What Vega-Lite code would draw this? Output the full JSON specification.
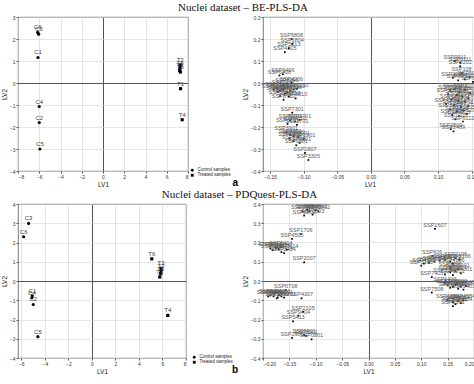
{
"$schema":"https://vega.github.io/schema/vega-lite/v6.json",
"padding":{"left":0,"top":1,"right":0,"bottom":0},
"config":{
 "view":{"stroke":"#555","strokeWidth":0.8},
 "axis":{"labelFontSize":5,"labelFont":"Liberation Sans","titleFont":"Liberation Sans","titleFontSize":6.5,"titleFontWeight":"normal","tickSize":2,"labelPadding":1,"titlePadding":2,"domain":false,"tickColor":"#555","labelColor":"#333","titleColor":"#222",
  "gridColor":{"condition":{"test":"datum.value === 0","value":"#555"},"value":"#d4d4d4"},
  "gridWidth":{"condition":{"test":"datum.value === 0","value":1},"value":0.6}},
 "title":{"font":"Liberation Serif","fontSize":11,"fontWeight":"normal","color":"#111"}
},
"datasets":{
 "s1":[
  {"label":"C6","group":"Control samples","lv1":-6.15,"lv2":2.3},
  {"label":"C3","group":"Control samples","lv1":-6.05,"lv2":2.22},
  {"label":"C1","group":"Control samples","lv1":-6.12,"lv2":1.16},
  {"label":"C4","group":"Control samples","lv1":-6.0,"lv2":-1.07},
  {"label":"C2","group":"Control samples","lv1":-6.0,"lv2":-1.8},
  {"label":"C5","group":"Control samples","lv1":-5.94,"lv2":-3.0},
  {"label":"T2","group":"Treated samples","lv1":7.28,"lv2":0.82},
  {"label":"T6","group":"Treated samples","lv1":7.25,"lv2":0.7},
  {"label":"T3","group":"Treated samples","lv1":7.22,"lv2":0.57},
  {"label":"T5","group":"Treated samples","lv1":7.28,"lv2":0.5},
  {"label":"T1","group":"Treated samples","lv1":7.3,"lv2":-0.26},
  {"label":"T4","group":"Treated samples","lv1":7.45,"lv2":-1.67}
 ],
 "s2":[
  {"label":"C3","group":"Control samples","lv1":-5.38,"lv2":2.99},
  {"label":"C6","group":"Control samples","lv1":-5.8,"lv2":2.3},
  {"label":"C1","group":"Control samples","lv1":-5.07,"lv2":-0.77},
  {"label":"C4","group":"Control samples","lv1":-5.1,"lv2":-0.87},
  {"label":"C2","group":"Control samples","lv1":-4.98,"lv2":-1.22},
  {"label":"C5","group":"Control samples","lv1":-4.59,"lv2":-2.89},
  {"label":"T6","group":"Treated samples","lv1":5.09,"lv2":1.15},
  {"label":"T3","group":"Treated samples","lv1":5.88,"lv2":0.66},
  {"label":"T2","group":"Treated samples","lv1":5.88,"lv2":0.52},
  {"label":"T5","group":"Treated samples","lv1":5.85,"lv2":0.38},
  {"label":"T1","group":"Treated samples","lv1":5.77,"lv2":0.21},
  {"label":"T4","group":"Treated samples","lv1":6.45,"lv2":-1.79}
 ],
 "l1":[
  {"label":"SSP6808","lv1":-0.118,"lv2":0.2},{"label":"SSP6804","lv1":-0.117,"lv2":0.178},{"label":"SSP5313","lv1":-0.122,"lv2":0.158},{"label":"SSP4305","lv1":-0.128,"lv2":0.14},
  {"label":"SSP6408","lv1":-0.136,"lv2":0.034},{"label":"SSP6406","lv1":-0.131,"lv2":0.04},{"label":"SSP5206","lv1":-0.125,"lv2":-0.003},{"label":"SSP4206","lv1":-0.118,"lv2":0.002},{"label":"SSP3107","lv1":-0.13,"lv2":-0.012},
  {"label":"SSP8210","lv1":-0.145,"lv2":-0.03},{"label":"SSP7203","lv1":-0.14,"lv2":-0.024},{"label":"SSP2110","lv1":-0.135,"lv2":-0.036},{"label":"SSP1210","lv1":-0.13,"lv2":-0.03},{"label":"SSP5110","lv1":-0.125,"lv2":-0.042},{"label":"SSP3210","lv1":-0.12,"lv2":-0.035},{"label":"SSP4110","lv1":-0.115,"lv2":-0.03},{"label":"SSP6210","lv1":-0.11,"lv2":-0.026},{"label":"SSP7110","lv1":-0.128,"lv2":-0.048},{"label":"SSP2210","lv1":-0.138,"lv2":-0.04},
  {"label":"SSP8810","lv1":-0.112,"lv2":-0.07},{"label":"SSP8710","lv1":-0.13,"lv2":-0.076},{"label":"SSP6810","lv1":-0.122,"lv2":-0.062},{"label":"SSP5810","lv1":-0.135,"lv2":-0.06},
  {"label":"SSP7301","lv1":-0.117,"lv2":-0.135},
  {"label":"SSP6701","lv1":-0.124,"lv2":-0.186},{"label":"SSP5701","lv1":-0.12,"lv2":-0.17},{"label":"SSP4701","lv1":-0.113,"lv2":-0.176},{"label":"SSP3701","lv1":-0.106,"lv2":-0.168},{"label":"SSP2701","lv1":-0.11,"lv2":-0.19},
  {"label":"SSP3901","lv1":-0.126,"lv2":-0.224},{"label":"SSP4901","lv1":-0.12,"lv2":-0.236},{"label":"SSP5901","lv1":-0.115,"lv2":-0.242},{"label":"SSP6901","lv1":-0.121,"lv2":-0.252},{"label":"SSP2901","lv1":-0.108,"lv2":-0.246},{"label":"SSP1901","lv1":-0.1,"lv2":-0.256},{"label":"SSP7901","lv1":-0.115,"lv2":-0.265},{"label":"SSP8901","lv1":-0.106,"lv2":-0.272},{"label":"SSP9901","lv1":-0.111,"lv2":-0.283},
  {"label":"SSP2807","lv1":-0.098,"lv2":-0.318},{"label":"SSP3305","lv1":-0.093,"lv2":-0.35},
  {"label":"SSP9911","lv1":0.125,"lv2":0.1},{"label":"SSP6111","lv1":0.133,"lv2":0.092},{"label":"SSP3202","lv1":0.133,"lv2":0.076},{"label":"SSP108","lv1":0.135,"lv2":0.045},
  {"label":"SSP2002","lv1":0.122,"lv2":0.024},{"label":"SSP3002","lv1":0.13,"lv2":0.012},{"label":"SSP4002","lv1":0.14,"lv2":0.017},{"label":"SSP5002","lv1":0.147,"lv2":0.027},{"label":"SSP6002","lv1":0.152,"lv2":0.005},
  {"label":"SSP7002","lv1":0.118,"lv2":-0.035},{"label":"SSP1003","lv1":0.125,"lv2":-0.028},{"label":"SSP2003","lv1":0.132,"lv2":-0.04},{"label":"SSP3003","lv1":0.14,"lv2":-0.03},{"label":"SSP4003","lv1":0.148,"lv2":-0.045},{"label":"SSP5003","lv1":0.115,"lv2":-0.05},{"label":"SSP6003","lv1":0.128,"lv2":-0.055},{"label":"SSP7003","lv1":0.136,"lv2":-0.062},{"label":"SSP8003","lv1":0.145,"lv2":-0.07},
  {"label":"SSP1104","lv1":0.12,"lv2":-0.075},{"label":"SSP2104","lv1":0.13,"lv2":-0.08},{"label":"SSP3104","lv1":0.14,"lv2":-0.085},{"label":"SSP4104","lv1":0.112,"lv2":-0.095},{"label":"SSP5104","lv1":0.124,"lv2":-0.1},{"label":"SSP6104","lv1":0.134,"lv2":-0.11},{"label":"SSP7104","lv1":0.145,"lv2":-0.105},{"label":"SSP8104","lv1":0.118,"lv2":-0.12},
  {"label":"SSP1205","lv1":0.128,"lv2":-0.13},{"label":"SSP2205","lv1":0.138,"lv2":-0.125},{"label":"SSP3205","lv1":0.121,"lv2":-0.145},{"label":"SSP4205","lv1":0.131,"lv2":-0.15},{"label":"SSP5205","lv1":0.143,"lv2":-0.14},{"label":"SSP6112","lv1":0.137,"lv2":-0.175},{"label":"SSP7205","lv1":0.126,"lv2":-0.165},
  {"label":"SSP2409","lv1":0.123,"lv2":-0.22},{"label":"SSP2509","lv1":0.119,"lv2":-0.21}
 ],
 "l2":[
  {"label":"SSP8802","lv1":-0.122,"lv2":0.34},{"label":"SSP8803","lv1":-0.106,"lv2":0.345},{"label":"SSP7802","lv1":-0.112,"lv2":0.362},{"label":"SSP7803","lv1":-0.125,"lv2":0.362},{"label":"SSP6802","lv1":-0.1,"lv2":0.368},{"label":"SSP6804","lv1":-0.116,"lv2":0.37},{"label":"SSP5802","lv1":-0.095,"lv2":0.362},
  {"label":"SSP1706","lv1":-0.128,"lv2":0.243},{"label":"SSP4505","lv1":-0.145,"lv2":0.219},
  {"label":"SSP4414","lv1":-0.17,"lv2":0.165},{"label":"SSP3414","lv1":-0.165,"lv2":0.15},{"label":"SSP2414","lv1":-0.16,"lv2":0.145},{"label":"SSP1414","lv1":-0.175,"lv2":0.172},{"label":"SSP5414","lv1":-0.182,"lv2":0.16},{"label":"SSP6414","lv1":-0.166,"lv2":0.176},{"label":"SSP7414","lv1":-0.155,"lv2":0.162},{"label":"SSP8414","lv1":-0.186,"lv2":0.17},
  {"label":"SSP2007","lv1":-0.122,"lv2":0.097},
  {"label":"SSP6708","lv1":-0.157,"lv2":-0.047},
  {"label":"SSP1301","lv1":-0.186,"lv2":-0.075},{"label":"SSP2301","lv1":-0.18,"lv2":-0.08},{"label":"SSP3301","lv1":-0.174,"lv2":-0.09},{"label":"SSP4301","lv1":-0.17,"lv2":-0.074},{"label":"SSP5301","lv1":-0.165,"lv2":-0.08},{"label":"SSP6301","lv1":-0.16,"lv2":-0.086},{"label":"SSP7301","lv1":-0.19,"lv2":-0.08},{"label":"SSP8301","lv1":-0.172,"lv2":-0.085},
  {"label":"SSP4307","lv1":-0.127,"lv2":-0.09},
  {"label":"SSP2105","lv1":-0.124,"lv2":-0.16},{"label":"SSP9404","lv1":-0.133,"lv2":-0.18},{"label":"SSP5413","lv1":-0.143,"lv2":-0.21},
  {"label":"SSP6901","lv1":-0.122,"lv2":-0.28},{"label":"SSP5901","lv1":-0.118,"lv2":-0.285},{"label":"SSP0801","lv1":-0.108,"lv2":-0.303},{"label":"SSP2901","lv1":-0.145,"lv2":-0.296},
  {"label":"SSP1607","lv1":0.126,"lv2":0.271},{"label":"SSP606","lv1":0.121,"lv2":0.13},
  {"label":"SSP3105","lv1":0.1,"lv2":0.08},{"label":"SSP4105","lv1":0.105,"lv2":0.09},{"label":"SSP5105","lv1":0.115,"lv2":0.095},{"label":"SSP6105","lv1":0.125,"lv2":0.1},{"label":"SSP7105","lv1":0.135,"lv2":0.105},{"label":"SSP8105","lv1":0.145,"lv2":0.11},{"label":"SSP1106","lv1":0.155,"lv2":0.1},{"label":"SSP2106","lv1":0.165,"lv2":0.12},{"label":"SSP3106","lv1":0.172,"lv2":0.11},{"label":"SSP4106","lv1":0.16,"lv2":0.09},
  {"label":"SSP3206","lv1":0.155,"lv2":0.07},
  {"label":"SSP1201","lv1":0.145,"lv2":0.035},{"label":"SSP2201","lv1":0.155,"lv2":0.045},{"label":"SSP3201","lv1":0.165,"lv2":0.05},{"label":"SSP4201","lv1":0.175,"lv2":0.04},{"label":"SSP5201","lv1":0.17,"lv2":0.06},{"label":"SSP6201","lv1":0.16,"lv2":0.03},
  {"label":"SSP7405","lv1":0.12,"lv2":0.02},
  {"label":"SSP1403","lv1":0.145,"lv2":-0.01},{"label":"SSP2403","lv1":0.15,"lv2":-0.02},{"label":"SSP3403","lv1":0.16,"lv2":-0.03},{"label":"SSP4403","lv1":0.17,"lv2":-0.04},{"label":"SSP5403","lv1":0.18,"lv2":-0.045},{"label":"SSP6403","lv1":0.165,"lv2":-0.02},{"label":"SSP7407","lv1":0.155,"lv2":-0.035},{"label":"SSP3803","lv1":0.175,"lv2":-0.03},{"label":"SSP8403","lv1":0.185,"lv2":-0.025},
  {"label":"SSP7508","lv1":0.12,"lv2":-0.06},
  {"label":"SSP1584","lv1":0.15,"lv2":-0.1},{"label":"SSP2584","lv1":0.16,"lv2":-0.11},{"label":"SSP3584","lv1":0.17,"lv2":-0.105},{"label":"SSP4584","lv1":0.18,"lv2":-0.1},{"label":"SSP5584","lv1":0.165,"lv2":-0.12},{"label":"SSP3101","lv1":0.16,"lv2":-0.13},{"label":"SSP6584","lv1":0.175,"lv2":-0.115}
 ]
},
"resolve":{"scale":{"x":"independent","y":"independent","shape":"independent"},"legend":{"shape":"independent"}},
"spacing":0,
"vconcat":[
 {"title":{"text":"Nuclei dataset – BE-PLS-DA","anchor":"middle","offset":2},
  "spacing":2,
  "resolve":{"scale":{"x":"independent","y":"independent","shape":"independent"},"legend":{"shape":"independent"}},
  "hconcat":[
   {"width":170,"height":154,"data":{"name":"s1"},
    "title":{"text":"a","orient":"bottom","anchor":"end","frame":"group","dx":50,"offset":-10,"fontSize":10,"fontWeight":"bold","font":"Liberation Sans","color":"#000"},
    "encoding":{
     "x":{"field":"lv1","type":"quantitative","title":"LV1","scale":{"domain":[-8,8],"nice":false,"zero":false},"axis":{"values":[-8,-6,-4,-2,0,2,4,6,8]}},
     "y":{"field":"lv2","type":"quantitative","title":"LV2","scale":{"domain":[-4,3],"nice":false,"zero":false},"axis":{"values":[-4,-3,-2,-1,0,1,2,3]}}},
    "layer":[
     {"mark":{"type":"point","filled":true,"color":"#000","size":10,"opacity":1},
      "encoding":{"shape":{"field":"group","type":"nominal","scale":{"domain":["Control samples","Treated samples"],"range":["circle","square"]},
        "legend":{"title":null,"orient":"none","legendX":172,"legendY":151,"labelFontSize":4.5,"labelFont":"Liberation Sans","labelColor":"#222","symbolSize":8,"symbolFillColor":"#000","symbolStrokeWidth":0,"rowPadding":0,"labelOffset":3,"padding":0}}}},
     {"mark":{"type":"text","dy":-5,"fontSize":6,"font":"Liberation Sans","color":"#444"},"encoding":{"text":{"field":"label"}}}
    ]},
   {"width":214,"height":154,"data":{"name":"l1"},
    "encoding":{
     "x":{"field":"lv1","type":"quantitative","title":"LV1","scale":{"domain":[-0.1605,0.158],"nice":false,"zero":false},"axis":{"values":[-0.15,-0.1,-0.05,0,0.05,0.1,0.15],"format":".2f"}},
     "y":{"field":"lv2","type":"quantitative","title":"LV2","scale":{"domain":[-0.4,0.3],"nice":false,"zero":false},"axis":{"values":[-0.4,-0.3,-0.2,-0.1,0,0.1,0.2,0.3],"format":".1f"}}},
    "layer":[
     {"mark":{"type":"point","filled":true,"shape":"square","color":"#000","size":3,"opacity":1}},
     {"mark":{"type":"text","dy":-4,"fontSize":5.5,"font":"Liberation Sans","color":"#5a5a5a"},"encoding":{"text":{"field":"label"}}}
    ]}
  ]},
 {"title":{"text":"Nuclei dataset – PDQuest-PLS-DA","anchor":"middle","offset":2},
  "spacing":2,
  "resolve":{"scale":{"x":"independent","y":"independent","shape":"independent"},"legend":{"shape":"independent"}},
  "hconcat":[
   {"width":168,"height":154,"data":{"name":"s2"},
    "title":{"text":"b","orient":"bottom","anchor":"end","frame":"group","dx":52,"offset":-10,"fontSize":10,"fontWeight":"bold","font":"Liberation Sans","color":"#000"},
    "encoding":{
     "x":{"field":"lv1","type":"quantitative","title":"LV1","scale":{"domain":[-6.28,8],"nice":false,"zero":false},"axis":{"values":[-6,-4,-2,0,2,4,6,8]}},
     "y":{"field":"lv2","type":"quantitative","title":"LV2","scale":{"domain":[-4,4],"nice":false,"zero":false},"axis":{"values":[-4,-3,-2,-1,0,1,2,3,4]}}},
    "layer":[
     {"mark":{"type":"point","filled":true,"color":"#000","size":10,"opacity":1},
      "encoding":{"shape":{"field":"group","type":"nominal","scale":{"domain":["Control samples","Treated samples"],"range":["circle","square"]},
        "legend":{"title":null,"orient":"none","legendX":174,"legendY":151,"labelFontSize":4.5,"labelFont":"Liberation Sans","labelColor":"#222","symbolSize":8,"symbolFillColor":"#000","symbolStrokeWidth":0,"rowPadding":0,"labelOffset":3,"padding":0}}}},
     {"mark":{"type":"text","dy":-5,"fontSize":6,"font":"Liberation Sans","color":"#444"},"encoding":{"text":{"field":"label"}}}
    ]},
   {"width":211,"height":154,"data":{"name":"l2"},
    "encoding":{
     "x":{"field":"lv1","type":"quantitative","title":"LV1","scale":{"domain":[-0.2,0.2],"nice":false,"zero":false},"axis":{"values":[-0.2,-0.15,-0.1,-0.05,0,0.05,0.1,0.15,0.2],"format":".2f"}},
     "y":{"field":"lv2","type":"quantitative","title":"LV2","scale":{"domain":[-0.4,0.4],"nice":false,"zero":false},"axis":{"values":[-0.4,-0.3,-0.2,-0.1,0,0.1,0.2,0.3,0.4],"format":".1f"}}},
    "layer":[
     {"mark":{"type":"point","filled":true,"shape":"square","color":"#000","size":3,"opacity":1}},
     {"mark":{"type":"text","dy":-4,"fontSize":5.5,"font":"Liberation Sans","color":"#5a5a5a"},"encoding":{"text":{"field":"label"}}}
    ]}
  ]}
]
}
